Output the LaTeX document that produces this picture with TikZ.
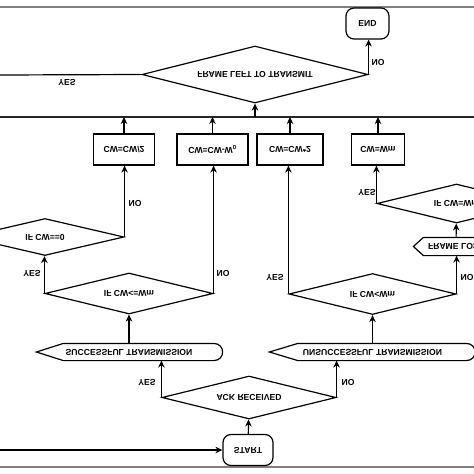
\documentclass[tikz,border=0pt]{standalone}
\usepackage{fontspec}
\setmainfont{Liberation Sans}
\usepackage{tikz}
\usetikzlibrary{arrows.meta,shapes.geometric}

% outline of a display box: node name, depth of the point, extension of the right end
\newcommand{\dispoutline}[3]{%
\draw (#1.north west) -- ([xshift=-#2]#1.west) -- (#1.south west)
	-- ([xshift=#3]#1.south east) .. controls +(12,0) and +(12,0) .. ([xshift=#3]#1.north east) -- cycle;}

\begin{document}
\begin{tikzpicture}[x=1pt, y=1pt, yscale=-1, line width=1.2pt, >={Stealth[length=7pt,width=6.5pt]}]
\tikzstyle{every node} = [transform shape, font=\fontsize{8.6}{10}\selectfont\bfseries, inner sep=0pt]
\tikzstyle{decision} = [diamond, draw, aspect=4]
\tikzstyle{process} = [draw, minimum height=31pt]
\tikzstyle{term} = [draw, rounded corners=8pt, minimum height=31pt]
\tikzstyle{display} = [minimum height=16pt]
\useasboundingbox (0,0) rectangle (474,474);
\clip (0,0) rectangle (474,474);
\draw[gray, line width=2pt] (0,7) -- (474,7) (0,467) -- (474,467);
\coordinate (busL) at (0,117);
\coordinate (busR) at (474,117);
\coordinate (loopL) at (0,75);
\coordinate (loopS) at (0,450);
% terminals
\node[term, minimum width=50pt] (start) at (248,450) {START};
\node[term, minimum width=43pt] (end) at (367.5,23.5) {END};
% decisions
\node[decision, minimum width=174pt, minimum height=43pt] (ack) at (249,397.5) {ACK RECEIVED};
\node[decision, minimum width=168pt, minimum height=41pt] (le) at (129,293.5) {IF CW<=Wm};
\node[decision, minimum width=167pt, minimum height=41pt] (lt) at (372.5,294) {IF CW<Wm};
\node[decision, minimum width=158pt, minimum height=37pt] (z) at (45,237) {IF CW==0};
\node[decision, minimum width=159pt, minimum height=39pt] (eq) at (456.5,203.5) {IF CW=Wm};
\node[decision, minimum width=226pt, minimum height=57pt] (fl) at (255,74.5) {FRAME LEFT TO TRANSMIT};
% display boxes
\node[display, minimum width=130pt] (succ) at (129,352) {SUCCESSFUL TRANSMISSION};
\node[display, minimum width=148pt] (unsucc) at (372.5,352) {UNSUCCESSFUL TRANSMISSION};
\node[display, minimum width=64pt, minimum height=17pt] (lost) at (456,246.5) {FRAME LOST};
\dispoutline{succ}{27pt}{19pt}
\dispoutline{unsucc}{28.5pt}{19pt}
\dispoutline{lost}{10pt}{19pt}
% updates of the window
\node[process, minimum width=61pt] (half) at (124,149.5) {CW=CW/2};
\node[process, minimum width=71pt] (w0) at (212.5,149.5) {CW=CW-W\textsubscript{0}};
\node[process, minimum width=66pt] (dbl) at (290,149.5) {CW=CW*2};
\node[process, minimum width=53pt] (wm) at (378,149.5) {CW=Wm};
% labels
\node (yesack) at (147,382) {YES};
\node (noack) at (348,382) {NO};
\node (yesle) at (32,273) {YES};
\node (nole) at (223,273) {NO};
\node (yeslt) at (275,277) {YES};
\node (nolt) at (467,277) {NO};
\node (noz) at (135,203) {NO};
\node (yeseq) at (367,192) {YES};
\node (yesfl) at (67,82) {YES};
\node (nofl) at (378,62) {NO};
% connectors
\draw[->] (loopS) -- (start);
\draw[->] (start) -- (ack);
\draw[->] (ack.west) -- (ack.west |- succ.north);
\draw[->] (ack.east) -- (ack.east |- unsucc.north);
\draw[->] (succ) -- (le);
\draw[->] (unsucc) -- (lt);
\draw[->] (le.west) -- (le.west |- z.north);
\draw[->] (le.east) -- (le.east |- w0.north);
\draw[->] (z.east) -- (z.east |- half.north);
\draw[->] (lt.west) -- (lt.west |- dbl.north);
\draw[->] (lt.east) -- (lt.east |- lost.north);
\draw[->] (lost) -- (eq);
\draw[->] (eq.west) -- (eq.west |- wm.north);
\draw[line width=1.6pt, black!85] (busL) -- (busR);
\draw[->] (half) -- (half |- busL);
\draw[->] (w0) -- (w0 |- busL);
\draw[->] (dbl) -- (dbl |- busL);
\draw[->] (wm) -- (wm |- busL);
\draw[->] (fl |- busL) -- (fl);
\draw[->] (fl.east) -- (fl.east |- end.north);
\draw (fl.west) -- (loopL);
\end{tikzpicture}
\end{document}
